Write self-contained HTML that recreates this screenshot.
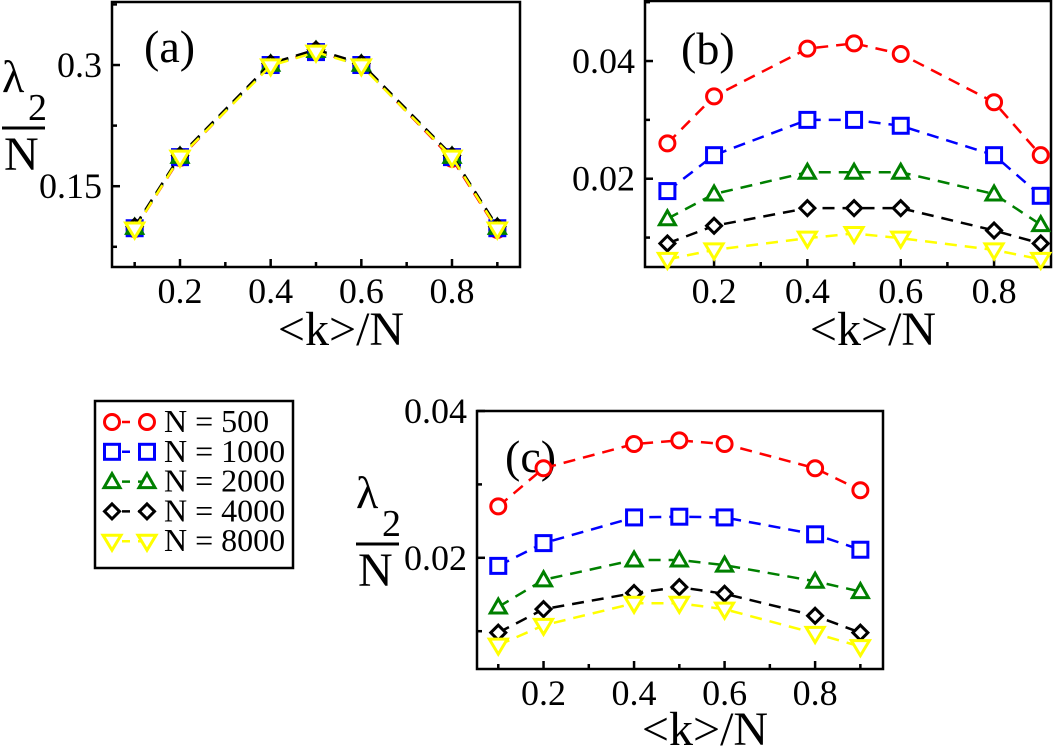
<!DOCTYPE html>
<html><head><meta charset="utf-8"><style>
html,body{margin:0;padding:0;background:#fff;}
svg text{font-family:"Liberation Serif","DejaVu Serif",serif;fill:#000;}
</style></head><body>
<svg id="fig" width="1062" height="750" viewBox="0 0 1062 750" xmlns="http://www.w3.org/2000/svg"></svg>
<script>
const xCats=[0.1,0.2,0.4,0.5,0.6,0.8,0.9];
const seriesNames=["N = 500","N = 1000","N = 2000","N = 4000","N = 8000"];
// panel (a)
const a500=[0.097,0.185,0.300,0.317,0.300,0.184,0.096];
const a1000=[0.098,0.186,0.300,0.316,0.300,0.186,0.098];
const a2000=[0.099,0.187,0.301,0.318,0.301,0.187,0.099];
const a4000=[0.100,0.188,0.302,0.319,0.302,0.188,0.100];
const a8000=[0.097,0.186,0.299,0.316,0.299,0.186,0.097];
// panel (b)
const b500=[0.026,0.034,0.0421,0.043,0.0412,0.033,0.024];
const b1000=[0.0179,0.024,0.030,0.030,0.029,0.024,0.0171];
const b2000=[0.0132,0.0174,0.0211,0.0211,0.0211,0.0174,0.0122];
const b4000=[0.009,0.012,0.015,0.015,0.015,0.0112,0.009];
const b8000=[0.0063,0.0079,0.0099,0.0107,0.0099,0.0079,0.0063];
// panel (c)
const c500=[0.027,0.0322,0.0355,0.036,0.0355,0.0322,0.0292];
const c1000=[0.0189,0.022,0.0255,0.0256,0.0255,0.0232,0.0211];
const c2000=[0.0133,0.017,0.0197,0.0197,0.019,0.0168,0.0154];
const c4000=[0.0098,0.013,0.0152,0.016,0.0151,0.0121,0.0098];
const c8000=[0.0081,0.0108,0.0138,0.0138,0.013,0.0097,0.0079];
const xTickLabels=["0.2","0.4","0.6","0.8"];
const aYTicks=["0.15","0.3"];
const bYTicks=["0.02","0.04"];
const cYTicks=["0.02","0.04"];

const NS="http://www.w3.org/2000/svg";
const svg=document.getElementById('fig');
const colors=["#ff0000","#0000ff","#008000","#000000","#ffff00"];
const shapes=["circle","square","up","diamond","down"];
function mk(tag,attrs,parent){const e=document.createElementNS(NS,tag);for(const k in attrs)e.setAttribute(k,attrs[k]);(parent||svg).appendChild(e);return e;}
function marker(g,shape,cx,cy,col){
  let e;
  if(shape==="circle"){e=mk('circle',{cx:cx,cy:cy,r:7.5},g);}
  else if(shape==="square"){e=mk('rect',{x:cx-7.5,y:cy-7.5,width:15,height:15},g);}
  else if(shape==="up"){e=mk('polygon',{points:`${cx},${cy-8} ${cx-8},${cy+6} ${cx+8},${cy+6}`},g);}
  else if(shape==="down"){e=mk('polygon',{points:`${cx-9},${cy-6} ${cx+9},${cy-6} ${cx},${cy+9}`},g);}
  else {e=mk('polygon',{points:`${cx},${cy-7.5} ${cx+7.5},${cy} ${cx},${cy+7.5} ${cx-7.5},${cy}`},g);}
  e.setAttribute('fill','#fff');e.setAttribute('stroke',col);e.setAttribute('stroke-width','3');
  
  
  return e;
}
function panel(p){
  const g=mk('g',{});
  
  
  const X=v=>p.L+(v-p.x0)/(p.x1-p.x0)*(p.R-p.L);
  const Y=v=>p.B-(v-p.y0)/(p.y1-p.y0)*(p.B-p.T);
  const f=mk('rect',{x:p.L,y:p.T,width:p.R-p.L,height:p.B-p.T,fill:'none',stroke:'#000','stroke-width':2.5},g);
  
  
  for(let i=1;i<=9;i++){const v=i/10;if(v<p.x0||v>p.x1)continue;const len=(i%2===0)?8:5;
    const t=mk('line',{x1:X(v),x2:X(v),y1:p.B,y2:p.B-len,stroke:'#000','stroke-width':2.5},g);
    
    }
  xTickLabels.forEach(s=>{const t=mk('text',{x:X(+s),y:p.B+36,'text-anchor':'middle','font-size':36},g);t.textContent=s;
    
    });
  for(let v=p.ystep;v<=p.y1+1e-9;v+=p.ystep){if(v<p.y0)continue;const maj=p.yLabels.some(s=>Math.abs(+s-v)<1e-9);
    const t=mk('line',{x1:p.L,x2:p.L+(maj?8:5),y1:Y(v),y2:Y(v),stroke:'#000','stroke-width':2.5},g);
    
    }
  p.yLabels.forEach(s=>{const t=mk('text',{x:p.L-10,y:Y(+s)+12,'text-anchor':'end','font-size':36},g);t.textContent=s;
    
    });
  const xt=mk('text',{x:p.xtx,y:p.xty,'text-anchor':'middle','font-size':48},g);xt.textContent='<k>/N';
  
  
  const pl=mk('text',{x:p.plx,y:p.ply,'font-size':46},g);pl.textContent='('+p.id+')';
  
  
  p.series.forEach((s,k)=>{
    const pts=xCats.map((x,i)=>X(x)+','+Y(s[i])).join(' ');
    const l=mk('polyline',{points:pts,fill:'none',stroke:colors[k],'stroke-width':2.5,'stroke-dasharray':'12,8'},g);
    
    
    xCats.forEach((x,i)=>marker(g,shapes[k],X(x),Y(s[i]),colors[k]));
  });
}
panel({id:'a',L:112,R:520,T:2,B:267,x0:0.05,x1:0.95,y0:0.05,y1:0.378,ystep:0.075,yLabels:aYTicks,
  series:[a500,a1000,a2000,a4000,a8000],xtx:341,xty:345,plx:144,ply:62});
panel({id:'b',L:645,R:1051,T:1,B:267,x0:0.052,x1:0.922,y0:0.005,y1:0.0502,ystep:0.01,yLabels:bYTicks,
  series:[b500,b1000,b2000,b4000,b8000],xtx:873,xty:345,plx:681,ply:64});
panel({id:'c',L:477,R:883,T:411,B:669,x0:0.053,x1:0.95,y0:0.00485,y1:0.04,ystep:0.01,yLabels:cYTicks,
  series:[c500,c1000,c2000,c4000,c8000],xtx:705,xty:745,plx:505,ply:472});

function ylab(x,y,name){
  const g=mk('g',{});
  
  
  const l=mk('text',{x:x,y:y,'font-size':46},g);l.textContent='λ';
  const s=mk('text',{x:x+26,y:y+28,'font-size':38},g);s.textContent='2';
  mk('line',{x1:x,x2:x+43,y1:y+36,y2:y+36,stroke:'#000','stroke-width':3},g);
  const n=mk('text',{x:x+2,y:y+78,'font-size':48},g);n.textContent='N';
}
ylab(2,92,'y-axis-title-a');
ylab(356,508,'y-axis-title-c');

// legend
const lg=mk('g',{});


const lb=mk('rect',{x:95,y:401,width:198,height:167,fill:'#fff',stroke:'#000','stroke-width':2.5},lg);
seriesNames.forEach((n,k)=>{
  const y=422+k*29.8;
  const e=mk('g',{},lg);
  
  
  mk('line',{x1:112,x2:147,y1:y,y2:y,stroke:colors[k],'stroke-width':2.5,'stroke-dasharray':'8,8','stroke-dashoffset':'-10'},e);
  marker(e,shapes[k],112,y,colors[k]);
  marker(e,shapes[k],147,y,colors[k]);
  const t=mk('text',{x:164,y:y+10,'font-size':32},e);t.textContent=n;
});
</script>
</body></html>
